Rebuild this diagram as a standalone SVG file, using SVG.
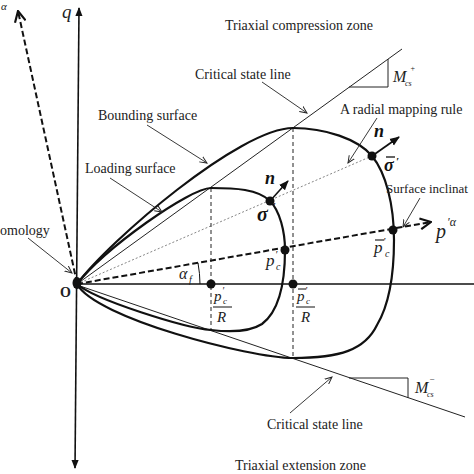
<svg xmlns="http://www.w3.org/2000/svg" width="474" height="474" viewBox="0 0 474 474">
<style>
.t{font-family:"Liberation Serif","Times New Roman",serif;font-size:14px;fill:#222}
.m{font-family:"Liberation Serif","Times New Roman",serif;font-style:italic;fill:#222}
.b{font-family:"Liberation Serif","Times New Roman",serif;font-style:italic;font-weight:bold;fill:#111}
.surf{fill:none;stroke:#111;stroke-width:2.2;stroke-linejoin:round}
.csl{fill:none;stroke:#222;stroke-width:1}
.lead{fill:none;stroke:#222;stroke-width:0.9;marker-end:url(#la)}
.vd{fill:none;stroke:#222;stroke-width:1;stroke-dasharray:4 3}
.dot{fill:#111}
</style>
<defs>
<marker id="ax" viewBox="0 0 10 10" refX="9" refY="5" markerWidth="9" markerHeight="9" markerUnits="userSpaceOnUse" orient="auto-start-reverse"><path d="M0,1 L10,5 L0,9 Z" fill="#111"/></marker>
<marker id="oa" viewBox="0 0 12 12" refX="11" refY="6" markerWidth="13" markerHeight="13" markerUnits="userSpaceOnUse" orient="auto"><path d="M1,1 L11,6 L1,11" fill="none" stroke="#111" stroke-width="2"/></marker>
<marker id="la" viewBox="0 0 10 10" refX="9" refY="5" markerWidth="8" markerHeight="8" markerUnits="userSpaceOnUse" orient="auto"><path d="M0,1 L9,5 L0,9" fill="none" stroke="#222" stroke-width="1.2"/></marker>
<marker id="na" viewBox="0 0 10 10" refX="9" refY="5" markerWidth="10" markerHeight="10" markerUnits="userSpaceOnUse" orient="auto"><path d="M0,1 L10,5 L0,9 Z" fill="#111"/></marker>
</defs>

<g id="axes">
<line x1="75" y1="468" x2="79" y2="8" stroke="#111" stroke-width="1.6" marker-start="url(#ax)" marker-end="url(#ax)"/>
<line x1="77" y1="284" x2="474" y2="284" stroke="#111" stroke-width="1.5"/>
<line x1="77" y1="283" x2="18" y2="11" stroke="#111" stroke-width="2" stroke-dasharray="6 3" marker-end="url(#oa)"/>
<line x1="77" y1="284" x2="431" y2="222" stroke="#111" stroke-width="2" stroke-dasharray="6 3" marker-end="url(#oa)"/>
</g>

<g id="critical-state-lines">
<line class="csl" x1="77" y1="284" x2="402" y2="49"/>
<polyline class="csl" points="349,87 388,87 388,59" stroke-width="1.2"/>
<line class="csl" x1="77" y1="285" x2="465" y2="417"/>
<polyline class="csl" points="349,378 408,378 408,398" stroke-width="1.2"/>
</g>

<g id="radial-line">
<line x1="77" y1="284" x2="372" y2="156" stroke="#777" stroke-width="0.9" stroke-dasharray="2 2"/>
</g>

<g id="verticals">
<line class="vd" x1="211" y1="188" x2="211" y2="330"/>
<line class="vd" x1="293" y1="128" x2="293" y2="358"/>
</g>

<g id="loading-surface">
<path class="surf" d="M77,284 C105,248 190,188 211,188 C235,188 258,189 270,201 C280,211 285,232 285,250 C285,285 278,312 262,324 C248,333 228,332 211,330 C185,328 95,300 77,284"/>
</g>

<g id="bounding-surface">
<path class="surf" d="M77,284 C110,240 240,128 293,128 C325,128 358,139 372,156 C386,173 394,205 394,240 C394,275 389,305 377,325 C365,350 340,358 293,358 C250,358 95,318 77,284"/>
</g>

<g id="angle">
<path d="M198,263 A121,121 0 0 1 200,284" fill="none" stroke="#111" stroke-width="1"/>
</g>

<g id="normals">
<line x1="270" y1="201" x2="288" y2="181" stroke="#111" stroke-width="1.6" marker-end="url(#na)"/>
<line x1="372" y1="156" x2="399" y2="137" stroke="#111" stroke-width="1.8" marker-end="url(#na)"/>
</g>

<g id="points">
<ellipse class="dot" cx="77" cy="283" rx="4.5" ry="6"/>
<circle class="dot" cx="211" cy="284" r="4.5"/>
<circle class="dot" cx="293" cy="284" r="4.5"/>
<circle class="dot" cx="285" cy="250" r="4.5"/>
<circle class="dot" cx="393" cy="230" r="4.5"/>
<circle class="dot" cx="270" cy="201" r="4.5"/>
<circle class="dot" cx="372" cy="156" r="4.5"/>
</g>

<g id="connectors">
<line class="lead" x1="262" y1="82" x2="307" y2="113"/>
<line class="lead" x1="147" y1="125" x2="207" y2="163"/>
<line class="lead" x1="110" y1="178" x2="162" y2="212"/>
<line class="lead" x1="377" y1="118" x2="348" y2="163"/>
<line class="lead" x1="420" y1="198" x2="403" y2="227"/>
<line class="lead" x1="28" y1="238" x2="72" y2="273"/>
<line class="lead" x1="290" y1="413" x2="332" y2="377"/>
</g>

<g id="labels">
<text class="t" x="225" y="30">Triaxial compression zone</text>
<text class="t" x="195" y="79">Critical state line</text>
<text class="t" x="98" y="120">Bounding surface</text>
<text class="t" x="85" y="173">Loading surface</text>
<text class="t" x="340" y="114">A radial mapping rule</text>
<text class="t" x="386" y="193" style="font-size:13px">Surface inclinat</text>
<text class="t" x="0" y="235">omology</text>
<text class="t" x="267" y="429">Critical state line</text>
<text class="t" x="235" y="470">Triaxial extension zone</text>

<text class="m" x="62" y="18" style="font-size:19px">q</text>
<text class="m" x="1" y="10" style="font-size:11px">α</text>
<text class="t" x="60" y="297" style="font-weight:bold">O</text>

<text class="m" x="436" y="238" style="font-size:20px">p</text>
<text class="m" x="447" y="226" style="font-size:12px">′α</text>

<text class="m" x="393" y="82" style="font-size:16px">M</text>
<text class="m" x="405" y="86" style="font-size:8px">cs</text>
<text class="m" x="410" y="71" style="font-size:8px">+</text>
<text class="m" x="415" y="393" style="font-size:16px">M</text>
<text class="m" x="427" y="397" style="font-size:8px">cs</text>
<text class="m" x="429" y="382" style="font-size:9px">−</text>

<text class="b" x="265" y="184" style="font-size:18px">n</text>
<text class="b" x="374" y="137" style="font-size:18px">n</text>
<text class="b" x="257" y="221" style="font-size:20px">σ</text>
<text class="b" x="273" y="210" style="font-size:10px">′</text>
<text class="b" x="384" y="171" style="font-size:18px">σ</text>
<line x1="386" y1="157" x2="395" y2="157" stroke="#111" stroke-width="1.3"/>
<text class="b" x="396" y="165" style="font-size:11px">′</text>

<text class="m" x="266" y="266" style="font-size:17px">p</text>
<text class="m" x="275" y="258" style="font-size:11px">′</text>
<text class="m" x="276" y="270" style="font-size:10px">c</text>

<text class="m" x="374" y="253" style="font-size:17px">p</text>
<line x1="375" y1="240" x2="384" y2="240" stroke="#111" stroke-width="1.1"/>
<text class="m" x="383" y="245" style="font-size:11px">′</text>
<text class="m" x="385" y="257" style="font-size:10px">c</text>

<text class="m" x="179" y="279" style="font-size:16px">α</text>
<text class="m" x="189" y="283" style="font-size:10px">f</text>

<text class="m" x="214" y="301" style="font-size:15px">p</text>
<text class="m" x="222" y="294" style="font-size:10px">′</text>
<text class="m" x="223" y="304" style="font-size:9px">c</text>
<line x1="213" y1="307" x2="232" y2="307" stroke="#111" stroke-width="1"/>
<text class="m" x="217" y="322" style="font-size:15px">R</text>

<text class="m" x="297" y="301" style="font-size:15px">p</text>
<line x1="298" y1="289" x2="306" y2="289" stroke="#111" stroke-width="1"/>
<text class="m" x="305" y="294" style="font-size:10px">′</text>
<text class="m" x="306" y="304" style="font-size:9px">c</text>
<line x1="296" y1="307" x2="315" y2="307" stroke="#111" stroke-width="1"/>
<text class="m" x="301" y="322" style="font-size:15px">R</text>
</g>
</svg>
